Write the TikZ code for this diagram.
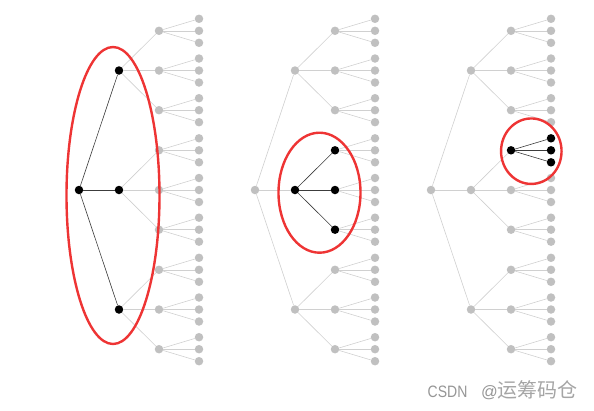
\documentclass[tikz,border=0pt]{standalone}
\usepackage{graphicx}
\usepackage{fontspec}
\newfontfamily\cjkfont{Noto Sans CJK SC}
\newfontfamily\latinfont{Liberation Sans}
\usetikzlibrary{shapes.geometric}
\definecolor{nodegray}{RGB}{192,192,192}
\definecolor{edgegray}{RGB}{208,208,208}
\definecolor{edgedark}{RGB}{60,60,60}
\definecolor{ringred}{RGB}{238,52,52}
\definecolor{markgray}{RGB}{150,150,150}
\definecolor{marklight}{RGB}{165,165,165}
\tikzset{
  dot/.style={circle, inner sep=0pt, minimum size=8.5pt, draw=none},
  edge/.style={line width=0.6pt},
  ring/.style={ellipse, draw=ringred, line width=2.4pt, inner sep=0pt, fill=none},
}
\begin{document}
\begin{tikzpicture}[x=1pt,y=-1pt]
\useasboundingbox (0,0) rectangle (594,410);
\foreach \t/\x in {1/79,2/255,3/431}{
  \ifnum\t=1 \def\rc{black}\else\def\rc{nodegray}\fi
  \node[dot, fill=\rc] (t\t) at (\x,190) {};
  \foreach \i in {1,2,3}{
    \pgfmathsetmacro\ya{190+(\i-2)*119.5}
    \pgfmathtruncatemacro\ha{(\t==1) || (\t==2 && \i==2)}
    \ifnum\ha=1 \def\ac{black}\else\def\ac{nodegray}\fi
    \ifnum\t=1 \def\aec{edgedark}\else\def\aec{edgegray}\fi
    \node[dot, fill=\ac] (t\t-a\i) at (\x+40,\ya) {};
    \draw[edge, draw=\aec] (t\t) -- (t\t-a\i);
    \foreach \j in {1,2,3}{
      \pgfmathsetmacro\yb{\ya+(\j-2)*39.7}
      \pgfmathtruncatemacro\hb{(\t==2 && \i==2) || (\t==3 && \i==2 && \j==1)}
      \pgfmathtruncatemacro\eb{(\t==2 && \i==2)}
      \pgfmathtruncatemacro\hc{(\t==3 && \i==2 && \j==1)}
      \ifnum\hb=1 \def\bc{black}\else\def\bc{nodegray}\fi
      \ifnum\eb=1 \def\bec{edgedark}\else\def\bec{edgegray}\fi
      \ifnum\hc=1 \def\cc{black}\def\cec{edgedark}\else\def\cc{nodegray}\def\cec{edgegray}\fi
      \node[dot, fill=\bc] (t\t-a\i-b\j) at (\x+80,\yb) {};
      \draw[edge, draw=\bec] (t\t-a\i) -- (t\t-a\i-b\j);
      \foreach \k in {1,2,3}{
        \pgfmathsetmacro\yc{\yb+(\k-2)*12}
        \node[dot, fill=\cc] (t\t-a\i-b\j-c\k) at (\x+120,\yc) {};
        \draw[edge, draw=\cec] (t\t-a\i-b\j) -- (t\t-a\i-b\j-c\k);
      }
    }
  }
}
\node[ring, minimum width=93pt, minimum height=297pt] (ring1) at (113,195.5) {};
\node[ring, minimum width=82pt, minimum height=120pt] (ring2) at (319.5,192.7) {};
\node[ring, minimum width=60.5pt, minimum height=65.5pt] (ring3) at (531.3,151.2) {};
\node[text=markgray, anchor=base west, inner sep=0pt] (mark) at (427.5,397.7)
  {\latinfont\fontsize{16.5}{18}\selectfont \scalebox{0.85}[1]{CSDN} \hspace{9pt}@\cjkfont\color{marklight}\fontsize{20}{22}\selectfont 运筹码仓};
\end{tikzpicture}
\end{document}
